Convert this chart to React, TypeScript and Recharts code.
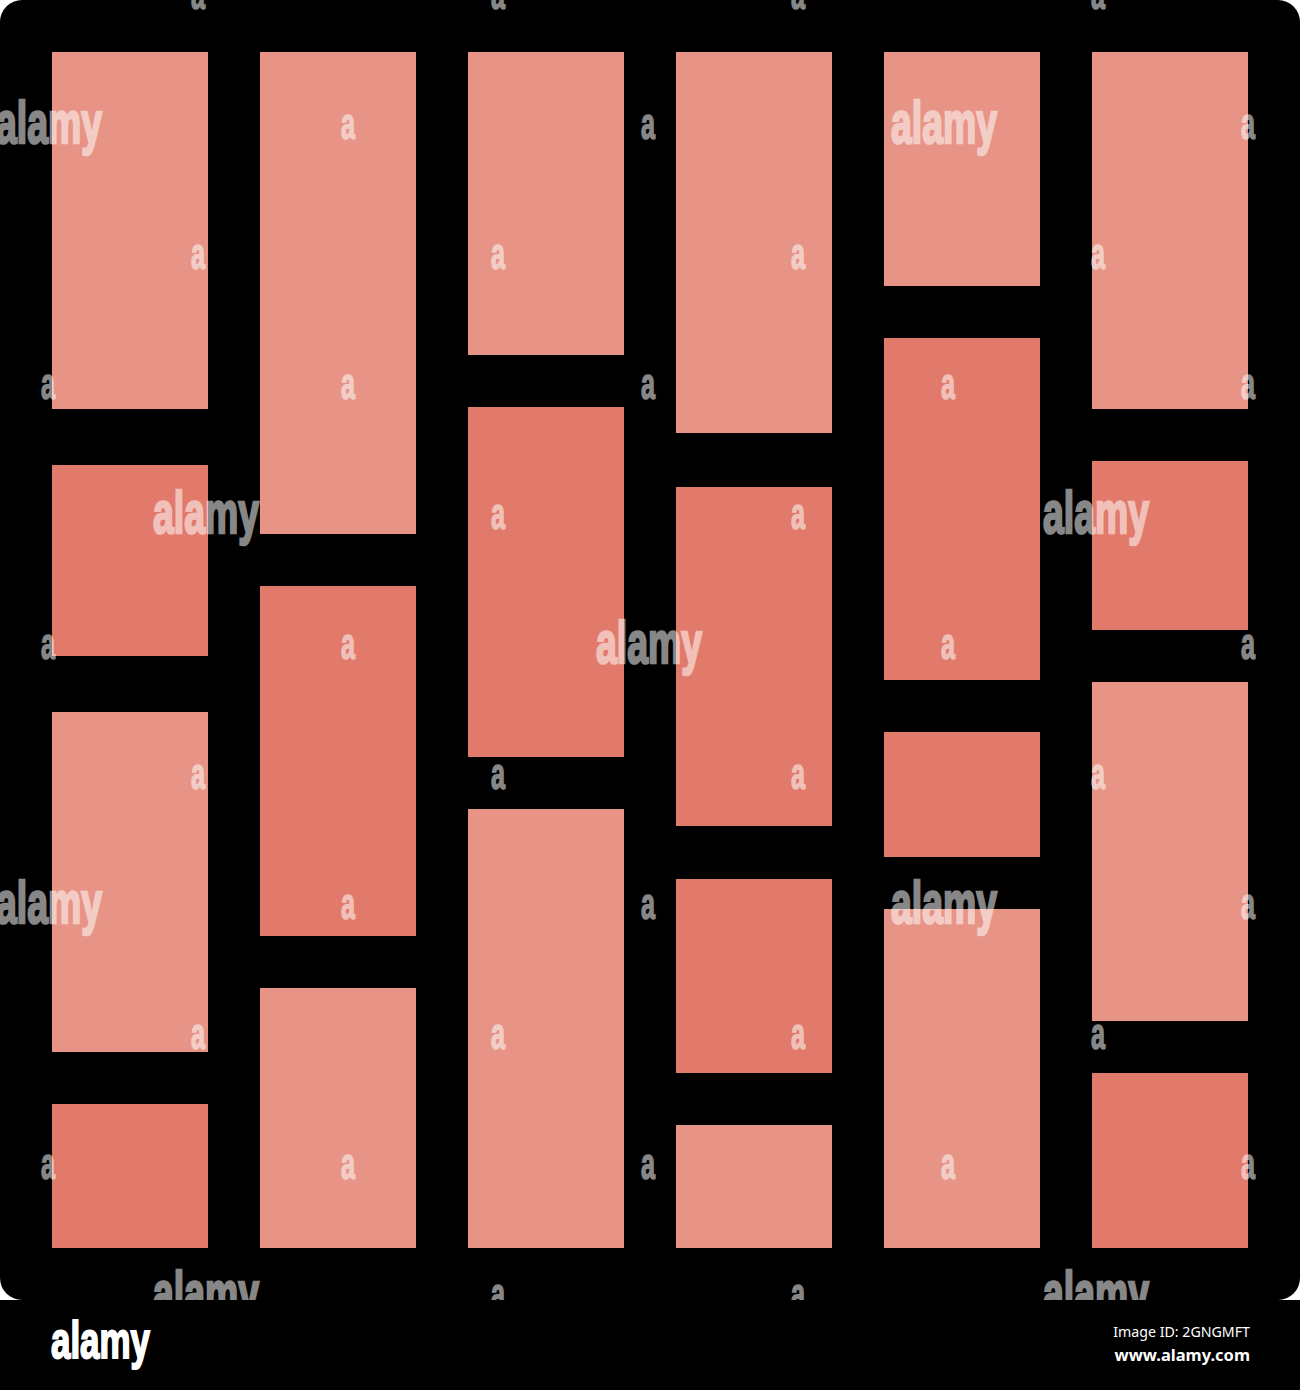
// App.tsx

import { BarChart, Bar, Cell, XAxis, YAxis } from "recharts";

const columns = ["c1", "c2", "c3", "c4", "c5", "c6"];

// lengths running down each column, the gap series are left unfilled
const topGap = [52, 52, 52, 52, 52, 52];
const brickA = [357, 482, 303, 381, 234, 357];
const gapA = [56, 52, 52, 54, 52, 52];
const brickB = [191, 350, 350, 339, 342, 169];
const gapB = [56, 52, 52, 53, 52, 52];
const brickC = [340, 260, 439, 194, 125, 339];
const gapC = [52, 0, 0, 52, 52, 52];
const brickD = [144, 0, 0, 123, 339, 175];

const toneC = ["light", "light", "light", "dark", "dark", "light"];
const toneD = ["dark", "light", "light", "light", "light", "dark"];

const LIGHT = "#E79486";
const DARK = "#E17A6A";
const toneColor = (tone: string) => (tone === "light" ? LIGHT : DARK);

const chartData = columns.map((name, i) => ({
  name,
  topGap: topGap[i],
  brickA: brickA[i],
  gapA: gapA[i],
  brickB: brickB[i],
  gapB: gapB[i],
  brickC: brickC[i],
  gapC: gapC[i],
  brickD: brickD[i],
}));

// stock photo watermark, repeated over the picture
const WIDE_MARKS = [
  { x: -4, y: 143 },
  { x: 891, y: 143 },
  { x: 153, y: 533 },
  { x: 1043, y: 533 },
  { x: 596, y: 663 },
  { x: -4, y: 923 },
  { x: 891, y: 923 },
  { x: 153, y: 1313 },
  { x: 1043, y: 1313 },
];
const SMALL_MARKS = [
  [198, 9], [498, 9], [798, 9], [1098, 9],
  [348, 139], [648, 139], [1248, 139],
  [198, 269], [498, 269], [798, 269], [1098, 269],
  [48, 399], [348, 399], [648, 399], [948, 399], [1248, 399],
  [498, 529], [798, 529],
  [48, 659], [348, 659], [948, 659], [1248, 659],
  [198, 789], [498, 789], [798, 789], [1098, 789],
  [348, 919], [648, 919], [1248, 919],
  [198, 1049], [498, 1049], [798, 1049], [1098, 1049],
  [48, 1179], [348, 1179], [648, 1179], [948, 1179], [1248, 1179],
  [498, 1309], [798, 1309],
];

const LOGO_FONT = '"Liberation Sans", sans-serif';

const App = () => {
  return (
    <div
      style={{
        position: "absolute",
        left: 0,
        top: 0,
        width: 1300,
        height: 1390,
        background: "#fff",
        overflow: "hidden",
      }}
    >
      <div
        style={{
          position: "absolute",
          left: 0,
          top: 0,
          width: 1300,
          height: 1300,
          background: "#000",
          borderRadius: 22,
        }}
      />
      <div
        style={{
          position: "absolute",
          left: 0,
          top: 1300,
          width: 1300,
          height: 90,
          background: "#000",
        }}
      />
      <div style={{ position: "absolute", left: 0, top: 0 }}>
        <BarChart
          width={1300}
          height={1300}
          data={chartData}
          barSize={156}
          margin={{ top: 0, right: 26, bottom: 0, left: 26 }}
        >
          <XAxis dataKey="name" hide />
          <YAxis hide reversed domain={[0, 1300]} />
          <Bar dataKey="topGap" stackId="1" fill="none" isAnimationActive={false} />
          <Bar dataKey="brickA" stackId="1" fill={LIGHT} isAnimationActive={false} />
          <Bar dataKey="gapA" stackId="1" fill="none" isAnimationActive={false} />
          <Bar dataKey="brickB" stackId="1" fill={DARK} isAnimationActive={false} />
          <Bar dataKey="gapB" stackId="1" fill="none" isAnimationActive={false} />
          <Bar dataKey="brickC" stackId="1" isAnimationActive={false}>
            {toneC.map((tone, i) => (
              <Cell key={`c-${i}`} fill={toneColor(tone)} />
            ))}
          </Bar>
          <Bar dataKey="gapC" stackId="1" fill="none" isAnimationActive={false} />
          <Bar dataKey="brickD" stackId="1" isAnimationActive={false}>
            {toneD.map((tone, i) => (
              <Cell key={`d-${i}`} fill={toneColor(tone)} />
            ))}
          </Bar>
        </BarChart>
      </div>
      <svg
        width={1300}
        height={1390}
        style={{ position: "absolute", left: 0, top: 0 }}
      >
        <defs>
          <clipPath id="panel">
            <rect x={0} y={0} width={1300} height={1300} />
          </clipPath>
        </defs>
        <g clipPath="url(#panel)">
          <g
            fill="#fff"
            stroke="#fff"
            opacity={0.53}
            fontFamily={LOGO_FONT}
            fontWeight="bold"
          >
            {WIDE_MARKS.map((m, i) => (
              <text
                key={`w-${i}`}
                x={m.x}
                y={m.y}
                fontSize={59}
                strokeWidth={2.5}
                textLength={106}
                lengthAdjust="spacingAndGlyphs"
              >
                alamy
              </text>
            ))}
            {SMALL_MARKS.map(([x, y], i) => (
              <text
                key={`s-${i}`}
                x={x - 7}
                y={y}
                fontSize={44}
                strokeWidth={1.5}
                textLength={14}
                lengthAdjust="spacingAndGlyphs"
              >
                a
              </text>
            ))}
          </g>
        </g>
        <text
          x={51}
          y={1358}
          fill="#fff"
          stroke="#fff"
          strokeWidth={2}
          fontFamily={LOGO_FONT}
          fontWeight="bold"
          fontSize={52}
          textLength={99}
          lengthAdjust="spacingAndGlyphs"
        >
          alamy
        </text>
        <text
          x={1250}
          y={1337}
          fill="#fff"
          textAnchor="end"
          fontFamily='"Noto Sans", sans-serif'
          fontSize={14.2}
        >
          Image ID: 2GNGMFT
        </text>
        <text
          x={1250}
          y={1361}
          fill="#fff"
          textAnchor="end"
          fontFamily='"Noto Sans", sans-serif'
          fontWeight="bold"
          fontSize={16.5}
        >
          www.alamy.com
        </text>
      </svg>
    </div>
  );
};

export default App;
